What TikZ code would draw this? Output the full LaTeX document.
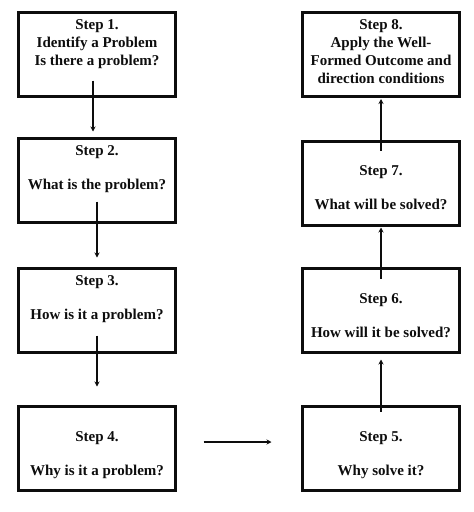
\documentclass[tikz,border=0pt]{standalone}
\usepackage{fontspec}
\setmainfont{Liberation Serif}
\usetikzlibrary{arrows.meta}
\definecolor{FlowInk}{gray}{0.05}
\definecolor{FlowPaper}{gray}{1.0}
\newcommand\StepText[2]{\parbox[c][78pt][t]{154pt}{\centering\vspace*{#1}\strut #2}}
\tikzset{
    flow/diagram/.style={
        font=\fontsize{15}{18}\selectfont\bfseries,
        draw=FlowInk,
        text=FlowInk,
        line join=miter,
        >=Stealth
    },
    flow/step/.style={
        draw=FlowInk, line width=3pt, fill=FlowPaper,
        minimum width=157pt, minimum height=84pt, inner sep=0pt
    },
    flow/link/.style={
        draw=FlowInk, line width=1.6pt,
        -{Stealth[length=5pt, width=5pt]}
    }
}

\begin{document}
\begin{tikzpicture}[flow/diagram, x=1pt, y=-1pt]
    \fill[FlowPaper] (0,0) rectangle (474,512);
    \useasboundingbox (0,0) rectangle (474,512);
    % left column, going down
    \node[flow/step] (S1) at (97,54.5)
        {\StepText{1.5pt}{Step 1.\\Identify a Problem\\Is there a problem?}};
    \node[flow/step] (S2) at (97,180.5)
        {\StepText{1.5pt}{Step 2.\\[16pt]What is the problem?}};
    \node[flow/step] (S3) at (97,310)
        {\StepText{1.5pt}{Step 3.\\[16pt]How is it a problem?}};
    \node[flow/step] (S4) at (97,448.5)
        {\StepText{19pt}{Step 4.\\[16pt]Why is it a problem?}};
    % right column, going up
    \node[flow/step] (S5) at (381,448.5)
        {\StepText{19pt}{Step 5.\\[16pt]Why solve it?}};
    \node[flow/step] (S6) at (381,310.5)
        {\StepText{19pt}{Step 6.\\[16pt]How will it be solved?}};
    \node[flow/step] (S7) at (381,183)
        {\StepText{19pt}{Step 7.\\[16pt]What will be solved?}};
    \node[flow/step] (S8) at (381,54)
        {\StepText{1.5pt}{Step 8.\\Apply the Well-\\Formed Outcome and\\direction conditions}};
    % connectors
    \draw[flow/link] ([shift={(-4pt,17.5pt)}]S1.south) -- ([shift={(-4pt,5.5pt)}]S2.north);
    \draw[flow/link] ([yshift=22.5pt]S2.south) -- ([yshift=9pt]S3.north);
    \draw[flow/link] ([yshift=18pt]S3.south) -- ([yshift=18.5pt]S4.north);
    \draw[flow/link] ([shift={(26.5pt,6.5pt)}]S4.east) -- ([shift={(-29.5pt,6.5pt)}]S5.west);
    \draw[flow/link] ([yshift=-6.5pt]S5.north) -- ([yshift=-5.5pt]S6.south);
    \draw[flow/link] ([yshift=-11.5pt]S6.north) -- ([yshift=-1pt]S7.south);
    \draw[flow/link] ([yshift=-11pt]S7.north) -- ([yshift=-1.5pt]S8.south);
\end{tikzpicture}
\end{document}
